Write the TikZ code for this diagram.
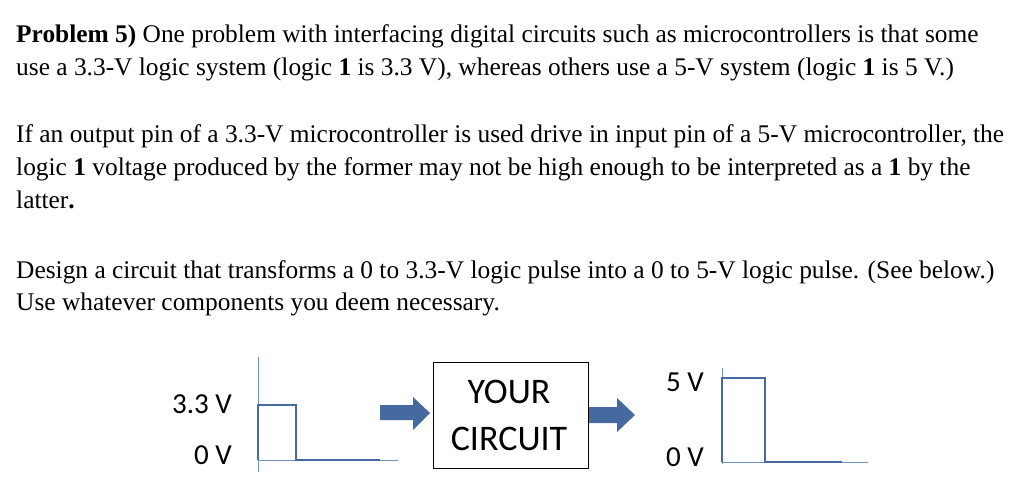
\documentclass[tikz,border=0pt]{standalone}
\usepackage{fontspec}
\setmainfont{Liberation Serif}
\newfontfamily\calib{Carlito}
\definecolor{sigc}{RGB}{70,106,160}
\definecolor{axc}{RGB}{110,145,200}
\begin{document}
\begin{tikzpicture}[x=1pt,y=-1pt,
  txt/.style={anchor=base west,inner sep=0pt,font=\fontsize{25.4}{30}\selectfont},
  lab/.style={inner sep=0pt,font=\calib\fontsize{29}{32}\selectfont},
  sig/.style={draw=sigc,line width=2.8pt},
  axis/.style={draw=axc,line width=0.9pt},
  fat/.style={fill=sigc,draw=none}]
\useasboundingbox (0,0) rectangle (1024,501);
\node[txt] (l1) at (16,42) {\textbf{Problem 5)} One problem with interfacing digital circuits such as microcontrollers is that some};
\node[txt] (l2) at (16,75) {use a 3.3-V logic system (logic \textbf{1} is 3.3 V), whereas others use a 5-V system (logic \textbf{1} is 5 V.)};
\node[txt] (l3) at (16,142) {If an output pin of a 3.3-V microcontroller is used drive in input pin of a 5-V microcontroller, the};
\node[txt] (l4) at (16,175) {logic \textbf{1} voltage produced by the former may not be high enough to be interpreted as a \textbf{1} by the};
\node[txt] (l5) at (16,208) {latter\textbf{.}};
\node[txt] (l6) at (16,278) {Design a circuit that transforms a 0 to 3.3-V logic pulse into a 0 to 5-V logic pulse. (See below.)};
\node[txt] (l7) at (16,310) {Use whatever components you deem necessary.};
% left signal
\draw[axis] (258,357) -- (258,472);
\draw[axis] (258,460) -- (398,460);
\draw[sig] (258,460) -- (258,405) -- (296,405) -- (296,460) -- (380,460);
\node[lab,anchor=base east] (v33) at (232,413) {3.3 V};
\node[lab,anchor=base east] (v0a) at (232,464) {0 V};
% arrows
\fill[fat] (380,405) -- (413,405) -- (413,397) -- (430,413) -- (413,430) -- (413,420) -- (380,420) -- cycle;
\node[draw,line width=0.8pt,minimum width=155pt,minimum height=106pt,inner sep=0pt] (box) at (510.5,415) {};
\node[inner sep=0pt,anchor=base,font=\calib\fontsize{36}{40}\selectfont] (t1) at (509,403) {YOUR};
\node[inner sep=0pt,anchor=base,font=\calib\fontsize{36}{40}\selectfont] (t2) at (509,450) {CIRCUIT};
\fill[fat] (589,407) -- (617,407) -- (617,398) -- (635,415) -- (617,432) -- (617,423) -- (589,423) -- cycle;
% right signal
\draw[axis] (722,368) -- (722,464);
\draw[axis] (722,462) -- (868,462);
\draw[sig] (722,462) -- (722,378) -- (765,378) -- (765,462) -- (842,462);
\node[lab,anchor=base east] (v5) at (704,391) {5 V};
\node[lab,anchor=base east] (v0b) at (704,466) {0 V};
\end{tikzpicture}
\end{document}
